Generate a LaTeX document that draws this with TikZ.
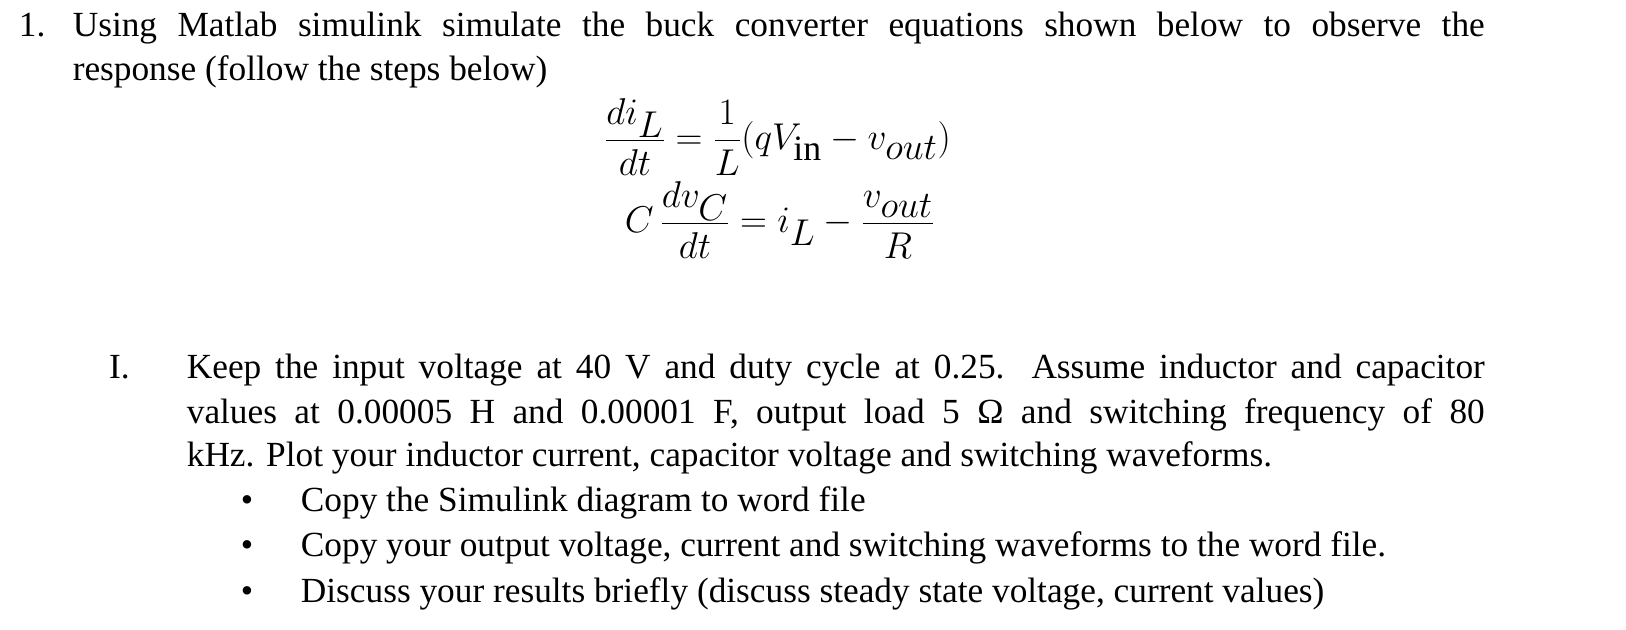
\documentclass[tikz,border=0pt]{standalone}
\usepackage{fontspec}
\setmainfont{Liberation Serif}
\begin{document}
\begin{tikzpicture}[x=1.037pt,y=1.037pt,
  txt/.style={anchor=base west,inner sep=0pt,font=\fontsize{35.3}{44.6}\selectfont},
  eq/.style={inner sep=0pt,font=\fontsize{34}{40}\selectfont}]
\useasboundingbox (0,0) rectangle (1568,-607.5);
\node[txt] (n1) at (18,-35) {1.};
\node[txt] (l1) at (70,-35) {\makebox[1412pt][s]{Using Matlab simulink simulate the buck converter equations shown below to observe the}};
\node[txt] (l2) at (70,-78) {response (follow the steps below)};
\node[eq] (e1) at (750,-132) {\scalebox{1.5}{$\displaystyle \frac{di_L}{dt}=\frac{1}{L}(qV_{\mathrm{in}}-v_{out})$}};
\node[eq] (e2) at (752,-212) {\scalebox{1.5}{$\displaystyle C\,\frac{dv_C}{dt}=i_L-\frac{v_{out}}{R}$}};
\node[txt] (r1) at (105,-365) {I.};
\node[txt] (a1) at (180,-365) {\makebox[1298pt][s]{Keep the input voltage at 40 V and duty cycle at 0.25. Assume inductor and capacitor}};
\node[txt] (a2) at (180,-408) {\makebox[1298pt][s]{values at 0.00005 H and 0.00001 F, output load 5 \symbol{"03A9} and switching frequency of 80}};
\node[txt] (a3) at (180,-450) {kHz. Plot your inductor current, capacitor voltage and switching waveforms.};
\foreach \y/\t [count=\i] in {493/{Copy the Simulink diagram to word file},537/{Copy your output voltage, current and switching waveforms to the word file.},581/{Discuss your results briefly (discuss steady state voltage, current values)}}{
  \node[txt] (b\i) at (232,-\y) {\textbullet};
  \node[txt] (t\i) at (290,-\y) {\t};
}
\end{tikzpicture}
\end{document}
